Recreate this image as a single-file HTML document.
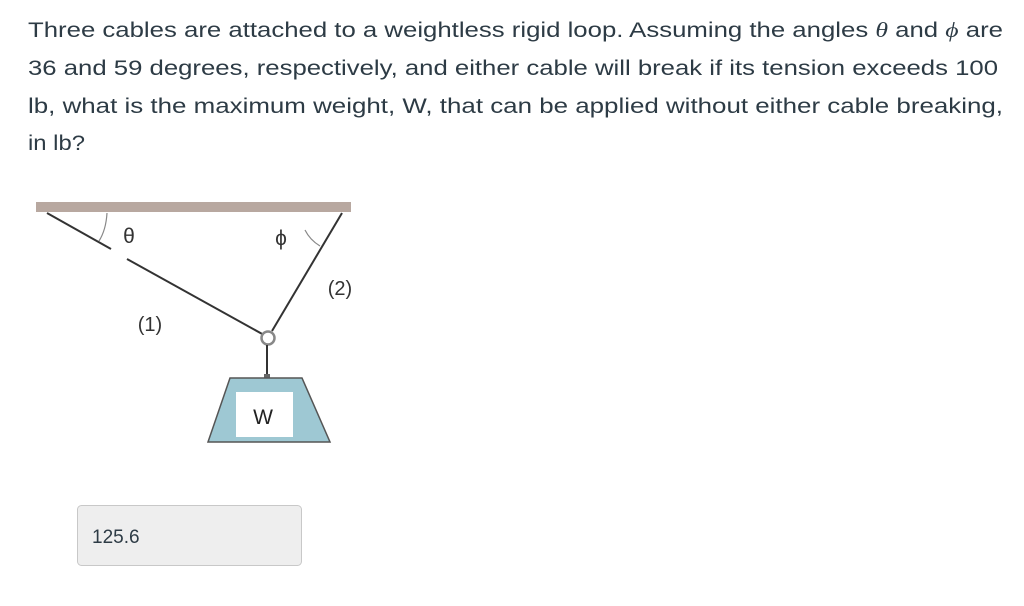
<!DOCTYPE html>
<html><head><meta charset="utf-8"><style>
html,body{margin:0;padding:0;background:#fff;}
svg{display:block;}
</style></head><body>
<svg width="1024" height="606" viewBox="0 0 1024 606" xmlns="http://www.w3.org/2000/svg" font-family="Liberation Sans, sans-serif">
<g fill="#2d3b45" font-size="21">
<text x="28" y="37" textLength="975" lengthAdjust="spacingAndGlyphs">Three cables are attached to a weightless rigid loop.  Assuming the angles <tspan font-family="Liberation Serif, serif" font-style="italic">θ</tspan> and <tspan font-family="Liberation Serif, serif" font-style="italic">ϕ</tspan> are</text>
<text x="28" y="75" textLength="970" lengthAdjust="spacingAndGlyphs">36 and 59 degrees, respectively, and either cable will break if its tension exceeds 100</text>
<text x="28" y="113" textLength="975" lengthAdjust="spacingAndGlyphs">lb, what is the maximum weight, W, that can be applied without either cable breaking,</text>
<text x="28" y="150" textLength="57" lengthAdjust="spacingAndGlyphs">in lb?</text>
</g>
<rect x="36" y="202" width="315" height="10" fill="#b8a8a0"/>
<line x1="47" y1="213" x2="111" y2="249" stroke="#333" stroke-width="2"/>
<line x1="127" y1="259" x2="264" y2="335" stroke="#333" stroke-width="2"/>
<line x1="342" y1="213" x2="272" y2="331" stroke="#333" stroke-width="2"/>
<path d="M107 213 Q106 230 99 241" fill="none" stroke="#888" stroke-width="1.2"/>
<path d="M305 230 Q310 240 320 246" fill="none" stroke="#888" stroke-width="1.2"/>
<text x="129" y="243" font-size="21" fill="#333" text-anchor="middle">θ</text>
<text x="281" y="245" font-size="21" fill="#333" text-anchor="middle">ϕ</text>
<text x="150" y="331" font-size="20" fill="#333" text-anchor="middle">(1)</text>
<text x="340" y="295" font-size="20" fill="#333" text-anchor="middle">(2)</text>
<circle cx="268" cy="338" r="6.5" fill="#fff" stroke="#888" stroke-width="2.5"/>
<line x1="267" y1="345" x2="267" y2="376" stroke="#333" stroke-width="2"/>
<rect x="264" y="374" width="6" height="5" fill="#666"/>
<polygon points="230,378 302,378 330,442 208,442" fill="#9ec8d3" stroke="#555" stroke-width="1.5"/>
<rect x="236" y="392" width="57" height="45" fill="#fff"/>
<text x="263" y="424" font-size="21" fill="#222" text-anchor="middle">W</text>
<rect x="77.5" y="505.5" width="224" height="60" rx="4" fill="#eeeeee" stroke="#c8c8c8"/>
<text x="92" y="543" font-size="19" fill="#2d3b45">125.6</text>
</svg>
</body></html>
